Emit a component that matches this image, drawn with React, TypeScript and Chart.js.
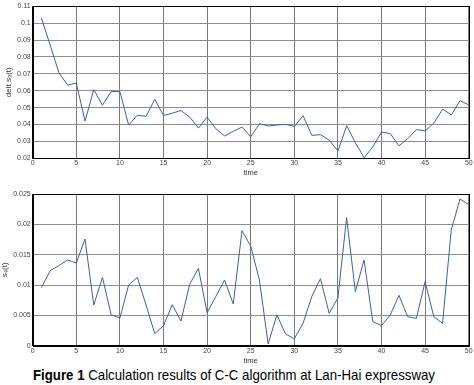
import React, { useEffect, useRef } from "react";
import { Chart, registerables } from "chart.js";

Chart.register(...registerables);

const time = [
  1, 2, 3, 4, 5, 6, 7, 8, 9, 10, 11, 12, 13, 14, 15, 16, 17, 18, 19, 20, 21, 22, 23, 24, 25,
  26, 27, 28, 29, 30, 31, 32, 33, 34, 35, 36, 37, 38, 39, 40, 41, 42, 43, 44, 45, 46, 47, 48, 49, 50,
];

const deltS3 = [
  0.103, 0.087, 0.0707, 0.0633, 0.0645, 0.042, 0.0606, 0.0514, 0.0596, 0.0594,
  0.0397, 0.0455, 0.0448, 0.0549, 0.0453, 0.0467, 0.0483, 0.0444, 0.0379, 0.0444,
  0.0375, 0.0332, 0.036, 0.0385, 0.0327, 0.0405, 0.0391, 0.0397, 0.0401, 0.0389,
  0.0452, 0.0336, 0.034, 0.0307, 0.0243, 0.0393, 0.0291, 0.0203, 0.0268, 0.0356,
  0.0346, 0.0274, 0.0317, 0.037, 0.0362, 0.0409, 0.0491, 0.0457, 0.0541, 0.0516,
];

const s4 = [
  0.00956, 0.01236, 0.0132, 0.01412, 0.01363, 0.01758, 0.0067, 0.01126, 0.0051, 0.00456,
  0.01, 0.01126, 0.0067, 0.00198, 0.0033, 0.00676, 0.00407, 0.0101, 0.01275, 0.00544,
  0.0081, 0.01082, 0.00687, 0.01896, 0.01643, 0.01082, 0.0003, 0.00505, 0.00192, 0.00115,
  0.00368, 0.0081, 0.01104, 0.00533, 0.00786, 0.0211, 0.0089, 0.01412, 0.004, 0.0033,
  0.00505, 0.0083, 0.00478, 0.0045, 0.01055, 0.00478, 0.00368, 0.01907, 0.02418, 0.02324,
];

const xTicks = [0, 5, 10, 15, 20, 25, 30, 35, 40, 45, 50];
const topYTicks = [0.02, 0.03, 0.04, 0.05, 0.06, 0.07, 0.08, 0.09, 0.1, 0.11];
const bottomYTicks = [0, 0.005, 0.01, 0.015, 0.02, 0.025];

const captionBold = "Figure 1";
const captionRest = " Calculation results of C-C algorithm at Lan-Hai expressway";

const FONT = "'Liberation Sans', Arial, sans-serif";

const boxPlugin = {
  id: "box",
  afterDraw(chart: any) {
    const { ctx, chartArea } = chart;
    ctx.save();
    ctx.strokeStyle = "#000";
    ctx.lineWidth = 1;
    ctx.strokeRect(
      Math.round(chartArea.left) + 0.5,
      Math.round(chartArea.top) + 0.5,
      Math.round(chartArea.right) - Math.round(chartArea.left),
      Math.round(chartArea.bottom) - Math.round(chartArea.top)
    );
    ctx.restore();
  },
};

function makeConfig(
  values: number[],
  yTicks: number[],
  yTitle: string,
  padding: any,
  yWidth: number,
  xHeight: number
) {
  const fmt = (v: number) => String(Number(Number(v).toFixed(4)));
  return {
    type: "line",
    data: {
      datasets: [
        {
          data: time.map((t, i) => ({ x: t, y: values[i] })),
          borderColor: "#3f5fa8",
          borderWidth: 1,
          pointRadius: 0,
          tension: 0,
          fill: false,
        },
      ],
    },
    options: {
      animation: false,
      responsive: false,
      events: [],
      layout: { padding },
      plugins: { legend: { display: false }, tooltip: { enabled: false } },
      scales: {
        x: {
          type: "linear",
          min: xTicks[0],
          max: xTicks[xTicks.length - 1],
          afterBuildTicks: (scale: any) => {
            scale.ticks = xTicks.map((v) => ({ value: v }));
          },
          afterFit: (scale: any) => {
            scale.height = xHeight;
          },
          grid: { color: "#7a7a7a", drawTicks: false, lineWidth: 1 },
          border: { display: true, color: "#000" },
          ticks: {
            padding: 1,
            color: "#444",
            font: { family: FONT, size: 7 },
            maxRotation: 0,
            autoSkip: false,
            callback: (v: any) => fmt(v),
          },
          title: {
            display: true,
            text: "time",
            color: "#333",
            font: { family: FONT, size: 7.5 },
            padding: 0,
          },
        },
        y: {
          type: "linear",
          min: yTicks[0],
          max: yTicks[yTicks.length - 1],
          afterBuildTicks: (scale: any) => {
            scale.ticks = yTicks.map((v) => ({ value: v }));
          },
          afterFit: (scale: any) => {
            scale.width = yWidth;
          },
          grid: { color: "#8e8e8e", drawTicks: false, lineWidth: 1 },
          border: { display: true, color: "#000" },
          ticks: {
            padding: 2,
            color: "#444",
            font: { family: FONT, size: 7 },
            autoSkip: false,
            callback: (v: any) => fmt(v),
          },
          title: {
            display: true,
            text: yTitle,
            color: "#333",
            font: { family: FONT, size: 8 },
            padding: 0,
          },
        },
      },
    },
    plugins: [boxPlugin],
  } as any;
}

export default function App() {
  const topRef = useRef<HTMLCanvasElement>(null);
  const botRef = useRef<HTMLCanvasElement>(null);
  const capRef = useRef<HTMLSpanElement>(null);

  useEffect(() => {
    const c1 = new Chart(
      topRef.current as HTMLCanvasElement,
      makeConfig(deltS3, topYTicks, "delt s\u2083(t)", { left: 3.7, right: 5.2, top: 4.7, bottom: 0 }, 29, 18.7)
    );
    const c2 = new Chart(
      botRef.current as HTMLCanvasElement,
      makeConfig(s4, bottomYTicks, "s\u2084(t)", { left: 0, right: 5.3, top: 14, bottom: 0 }, 32.7, 19.3)
    );
    const cap = capRef.current;
    if (cap) {
      const w = cap.getBoundingClientRect().width;
      if (w > 0) cap.style.transform = `scaleX(${402 / w})`;
    }
    return () => {
      c1.destroy();
      c2.destroy();
    };
  }, []);

  return (
    <div
      style={{
        position: "absolute",
        left: 0,
        top: 0,
        width: 474,
        height: 385,
        background: "#fff",
        overflow: "hidden",
      }}
    >
      <canvas
        ref={topRef}
        width={474}
        height={177}
        style={{ position: "absolute", left: 0, top: 0, width: 474, height: 177 }}
      />
      <canvas
        ref={botRef}
        width={474}
        height={185}
        style={{ position: "absolute", left: 0, top: 180, width: 474, height: 185 }}
      />
      <span
        ref={capRef}
        style={{
          position: "absolute",
          left: 33,
          top: 367,
          fontFamily: "'Liberation Sans Narrow', 'Liberation Sans', Arial, sans-serif",
          fontSize: 15,
          lineHeight: "16px",
          color: "#000",
          whiteSpace: "nowrap",
          transformOrigin: "left center",
        }}
      >
        <b>{captionBold}</b>
        {captionRest}
      </span>
    </div>
  );
}
